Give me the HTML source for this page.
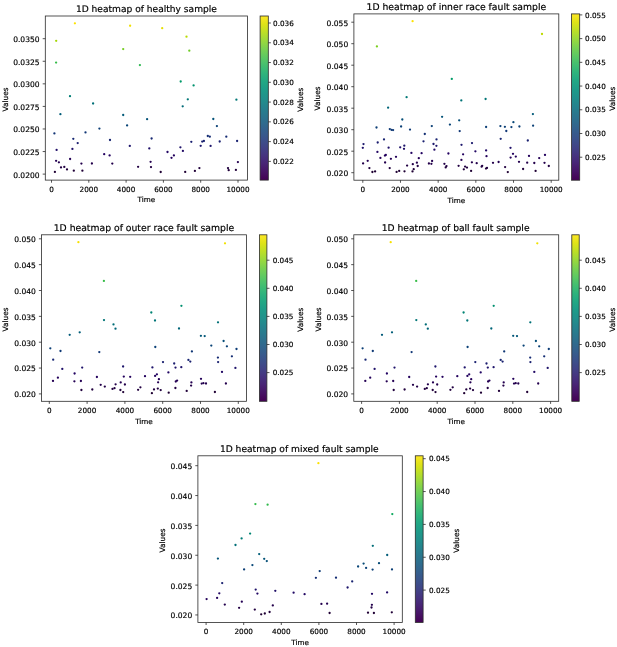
<!DOCTYPE html><html><head><meta charset="utf-8"><title>1D heatmaps</title>
<style>html,body{margin:0;padding:0;background:#fff}svg{display:block}text{font-family:"DejaVu Sans","Liberation Sans",sans-serif;fill:#000;text-rendering:geometricPrecision;stroke:#000;stroke-width:0.18}</style></head><body>
<svg width="617" height="647" viewBox="0 0 617 647">
<rect width="617" height="647" fill="#fff"/>
<defs><linearGradient id="vir" x1="0" y1="1" x2="0" y2="0">
<stop offset="0" stop-color="#440154"/>
<stop offset="0.05" stop-color="#471365"/>
<stop offset="0.1" stop-color="#482475"/>
<stop offset="0.15" stop-color="#463480"/>
<stop offset="0.2" stop-color="#414487"/>
<stop offset="0.25" stop-color="#3b528b"/>
<stop offset="0.3" stop-color="#355f8d"/>
<stop offset="0.35" stop-color="#2f6c8e"/>
<stop offset="0.4" stop-color="#2a788e"/>
<stop offset="0.45" stop-color="#25848e"/>
<stop offset="0.5" stop-color="#21918c"/>
<stop offset="0.55" stop-color="#1e9c89"/>
<stop offset="0.6" stop-color="#22a884"/>
<stop offset="0.65" stop-color="#2fb47c"/>
<stop offset="0.7" stop-color="#44bf70"/>
<stop offset="0.75" stop-color="#5ec962"/>
<stop offset="0.8" stop-color="#7ad151"/>
<stop offset="0.85" stop-color="#9bd93c"/>
<stop offset="0.9" stop-color="#bddf26"/>
<stop offset="0.95" stop-color="#dfe318"/>
<stop offset="1" stop-color="#fde725"/>
</linearGradient></defs>
<g>
<text x="146.4" y="11.7" font-size="9.1" text-anchor="middle">1D heatmap of healthy sample</text>
<circle cx="74.9" cy="23.3" r="1.15" fill="#fde200"/>
<circle cx="130.1" cy="25.75" r="1.15" fill="#f1e100"/>
<circle cx="56.2" cy="40.8" r="1.15" fill="#a3d603"/>
<circle cx="123.2" cy="49.1" r="1.15" fill="#74cd21"/>
<circle cx="56.1" cy="62.6" r="1.15" fill="#34bb48"/>
<circle cx="139.9" cy="65.1" r="1.15" fill="#2ab74e"/>
<circle cx="70" cy="96.2" r="1.15" fill="#007e75"/>
<circle cx="162.2" cy="28.2" r="1.15" fill="#e5df00"/>
<circle cx="186.5" cy="36.7" r="1.15" fill="#b9da00"/>
<circle cx="189.3" cy="50.7" r="1.15" fill="#6ecc25"/>
<circle cx="180.7" cy="81.5" r="1.15" fill="#009a69"/>
<circle cx="193.6" cy="85.4" r="1.15" fill="#00926e"/>
<circle cx="93.1" cy="103.5" r="1.15" fill="#006f77"/>
<circle cx="60.4" cy="114.2" r="1.15" fill="#005b78"/>
<circle cx="123.2" cy="115" r="1.15" fill="#015978"/>
<circle cx="147.1" cy="119.2" r="1.15" fill="#045178"/>
<circle cx="127.1" cy="125.4" r="1.15" fill="#094577"/>
<circle cx="99.4" cy="128.6" r="1.15" fill="#0d3e76"/>
<circle cx="85.5" cy="132.4" r="1.15" fill="#103675"/>
<circle cx="54.4" cy="133.4" r="1.15" fill="#123475"/>
<circle cx="73.3" cy="138.8" r="1.15" fill="#172872"/>
<circle cx="110" cy="140" r="1.15" fill="#182571"/>
<circle cx="77.7" cy="143.1" r="1.15" fill="#1b1d6f"/>
<circle cx="129.8" cy="145.9" r="1.15" fill="#1e166c"/>
<circle cx="72.4" cy="148.9" r="1.15" fill="#200f68"/>
<circle cx="56.6" cy="149.9" r="1.15" fill="#200d67"/>
<circle cx="104.2" cy="154.2" r="1.15" fill="#230160"/>
<circle cx="109.6" cy="155.4" r="1.15" fill="#23005e"/>
<circle cx="70.1" cy="159" r="1.15" fill="#240056"/>
<circle cx="56.1" cy="160.8" r="1.15" fill="#240052"/>
<circle cx="58.9" cy="162.3" r="1.15" fill="#23004e"/>
<circle cx="81.4" cy="163.6" r="1.15" fill="#23004b"/>
<circle cx="91.9" cy="163.5" r="1.15" fill="#23004b"/>
<circle cx="112.3" cy="163.6" r="1.15" fill="#23004b"/>
<circle cx="61" cy="167.4" r="1.15" fill="#220042"/>
<circle cx="64.3" cy="166.9" r="1.15" fill="#220042"/>
<circle cx="67" cy="169.4" r="1.15" fill="#21003b"/>
<circle cx="138.1" cy="166.8" r="1.15" fill="#220043"/>
<circle cx="73.8" cy="170.7" r="1.15" fill="#200037"/>
<circle cx="82.4" cy="170.7" r="1.15" fill="#200037"/>
<circle cx="54.9" cy="171.9" r="1.15" fill="#1f0034"/>
<circle cx="187.8" cy="99.3" r="1.15" fill="#007776"/>
<circle cx="236.4" cy="99.7" r="1.15" fill="#007776"/>
<circle cx="182.7" cy="106.3" r="1.15" fill="#006a77"/>
<circle cx="213.3" cy="119" r="1.15" fill="#045278"/>
<circle cx="216.9" cy="126.1" r="1.15" fill="#0b4277"/>
<circle cx="151.6" cy="138.5" r="1.15" fill="#172872"/>
<circle cx="207.8" cy="136" r="1.15" fill="#142d73"/>
<circle cx="209.8" cy="136.7" r="1.15" fill="#152c73"/>
<circle cx="226.3" cy="136.7" r="1.15" fill="#152c73"/>
<circle cx="191.3" cy="141.8" r="1.15" fill="#1a2070"/>
<circle cx="202.2" cy="141.6" r="1.15" fill="#1a2170"/>
<circle cx="203.9" cy="141" r="1.15" fill="#192271"/>
<circle cx="219.7" cy="141.5" r="1.15" fill="#1a2170"/>
<circle cx="237.1" cy="141" r="1.15" fill="#192271"/>
<circle cx="200.7" cy="145.8" r="1.15" fill="#1d176c"/>
<circle cx="210.6" cy="145.9" r="1.15" fill="#1e166c"/>
<circle cx="149.3" cy="148.4" r="1.15" fill="#1f1069"/>
<circle cx="180.4" cy="147.3" r="1.15" fill="#1f136a"/>
<circle cx="182.9" cy="150.9" r="1.15" fill="#210a66"/>
<circle cx="167.5" cy="152" r="1.15" fill="#220764"/>
<circle cx="173.9" cy="155.4" r="1.15" fill="#23005e"/>
<circle cx="171.5" cy="157.8" r="1.15" fill="#230059"/>
<circle cx="150.6" cy="161.8" r="1.15" fill="#240050"/>
<circle cx="237.9" cy="162.1" r="1.15" fill="#240050"/>
<circle cx="151" cy="167.1" r="1.15" fill="#220042"/>
<circle cx="199.4" cy="168.1" r="1.15" fill="#21003e"/>
<circle cx="228" cy="168.1" r="1.15" fill="#21003e"/>
<circle cx="228.7" cy="170.2" r="1.15" fill="#200039"/>
<circle cx="235.9" cy="169.9" r="1.15" fill="#200039"/>
<circle cx="194.9" cy="170.9" r="1.15" fill="#200037"/>
<circle cx="185.2" cy="171.9" r="1.15" fill="#1f0034"/>
<circle cx="160.7" cy="172" r="1.15" fill="#1f0034"/>
<rect x="45.3" y="16" width="202.2" height="164.1" fill="none" stroke="#2a2a2a" stroke-width="0.8"/>
<line x1="51.5" y1="180.1" x2="51.5" y2="182.7" stroke="#2a2a2a" stroke-width="0.8"/>
<text x="51.5" y="191.7" font-size="7.25" text-anchor="middle">0</text>
<line x1="88.8" y1="180.1" x2="88.8" y2="182.7" stroke="#2a2a2a" stroke-width="0.8"/>
<text x="88.8" y="191.7" font-size="7.25" text-anchor="middle">2000</text>
<line x1="126.1" y1="180.1" x2="126.1" y2="182.7" stroke="#2a2a2a" stroke-width="0.8"/>
<text x="126.1" y="191.7" font-size="7.25" text-anchor="middle">4000</text>
<line x1="163.4" y1="180.1" x2="163.4" y2="182.7" stroke="#2a2a2a" stroke-width="0.8"/>
<text x="163.4" y="191.7" font-size="7.25" text-anchor="middle">6000</text>
<line x1="200.7" y1="180.1" x2="200.7" y2="182.7" stroke="#2a2a2a" stroke-width="0.8"/>
<text x="200.7" y="191.7" font-size="7.25" text-anchor="middle">8000</text>
<line x1="238" y1="180.1" x2="238" y2="182.7" stroke="#2a2a2a" stroke-width="0.8"/>
<text x="238" y="191.7" font-size="7.25" text-anchor="middle">10000</text>
<line x1="42.7" y1="38.7" x2="45.3" y2="38.7" stroke="#2a2a2a" stroke-width="0.8"/>
<text x="39.6" y="42.1" font-size="7.55" text-anchor="end">0.0350</text>
<line x1="42.7" y1="61.27" x2="45.3" y2="61.27" stroke="#2a2a2a" stroke-width="0.8"/>
<text x="39.6" y="64.67" font-size="7.55" text-anchor="end">0.0325</text>
<line x1="42.7" y1="83.84" x2="45.3" y2="83.84" stroke="#2a2a2a" stroke-width="0.8"/>
<text x="39.6" y="87.24" font-size="7.55" text-anchor="end">0.0300</text>
<line x1="42.7" y1="106.41" x2="45.3" y2="106.41" stroke="#2a2a2a" stroke-width="0.8"/>
<text x="39.6" y="109.81" font-size="7.55" text-anchor="end">0.0275</text>
<line x1="42.7" y1="128.98" x2="45.3" y2="128.98" stroke="#2a2a2a" stroke-width="0.8"/>
<text x="39.6" y="132.38" font-size="7.55" text-anchor="end">0.0250</text>
<line x1="42.7" y1="151.55" x2="45.3" y2="151.55" stroke="#2a2a2a" stroke-width="0.8"/>
<text x="39.6" y="154.95" font-size="7.55" text-anchor="end">0.0225</text>
<line x1="42.7" y1="174.12" x2="45.3" y2="174.12" stroke="#2a2a2a" stroke-width="0.8"/>
<text x="39.6" y="177.52" font-size="7.55" text-anchor="end">0.0200</text>
<text x="146.4" y="202.4" font-size="7.2" text-anchor="middle">Time</text>
<text transform="translate(8.4,99.45) rotate(-90)" font-size="7.4" text-anchor="middle">Values</text>
<rect x="260.1" y="16" width="8.2" height="164.1" fill="url(#vir)" stroke="#2a2a2a" stroke-width="0.8"/>
<line x1="268.3" y1="23" x2="270.9" y2="23" stroke="#2a2a2a" stroke-width="0.8"/>
<text x="273.1" y="25.6" font-size="7.25">0.036</text>
<line x1="268.3" y1="42.77" x2="270.9" y2="42.77" stroke="#2a2a2a" stroke-width="0.8"/>
<text x="273.1" y="45.37" font-size="7.25">0.034</text>
<line x1="268.3" y1="62.54" x2="270.9" y2="62.54" stroke="#2a2a2a" stroke-width="0.8"/>
<text x="273.1" y="65.14" font-size="7.25">0.032</text>
<line x1="268.3" y1="82.31" x2="270.9" y2="82.31" stroke="#2a2a2a" stroke-width="0.8"/>
<text x="273.1" y="84.91" font-size="7.25">0.030</text>
<line x1="268.3" y1="102.08" x2="270.9" y2="102.08" stroke="#2a2a2a" stroke-width="0.8"/>
<text x="273.1" y="104.68" font-size="7.25">0.028</text>
<line x1="268.3" y1="121.85" x2="270.9" y2="121.85" stroke="#2a2a2a" stroke-width="0.8"/>
<text x="273.1" y="124.45" font-size="7.25">0.026</text>
<line x1="268.3" y1="141.62" x2="270.9" y2="141.62" stroke="#2a2a2a" stroke-width="0.8"/>
<text x="273.1" y="144.22" font-size="7.25">0.024</text>
<line x1="268.3" y1="161.39" x2="270.9" y2="161.39" stroke="#2a2a2a" stroke-width="0.8"/>
<text x="273.1" y="163.99" font-size="7.25">0.022</text>
<text transform="translate(302.7,99.65) rotate(-90)" font-size="7.4" text-anchor="middle">Values</text>
</g>
<g>
<text x="456.35" y="9.9" font-size="9.25" text-anchor="middle">1D heatmap of inner race fault sample</text>
<circle cx="412.6" cy="21.2" r="1.15" fill="#fde200"/>
<circle cx="376.9" cy="46.4" r="1.15" fill="#7acf1d"/>
<circle cx="451.8" cy="78.9" r="1.15" fill="#009c68"/>
<circle cx="542" cy="34" r="1.15" fill="#bdda00"/>
<circle cx="406.6" cy="97.2" r="1.15" fill="#007976"/>
<circle cx="388.1" cy="107.7" r="1.15" fill="#006578"/>
<circle cx="402.3" cy="119.5" r="1.15" fill="#054e77"/>
<circle cx="401.1" cy="126.5" r="1.15" fill="#0c4076"/>
<circle cx="376.5" cy="127.5" r="1.15" fill="#0d3e76"/>
<circle cx="389.8" cy="129.1" r="1.15" fill="#0f3a76"/>
<circle cx="391.6" cy="129.9" r="1.15" fill="#0f3975"/>
<circle cx="393.1" cy="130.1" r="1.15" fill="#0f3975"/>
<circle cx="410" cy="129.6" r="1.15" fill="#0f3a76"/>
<circle cx="461.3" cy="100.4" r="1.15" fill="#007377"/>
<circle cx="485.6" cy="99" r="1.15" fill="#007576"/>
<circle cx="442.1" cy="116.8" r="1.15" fill="#035378"/>
<circle cx="459.2" cy="120.3" r="1.15" fill="#064c77"/>
<circle cx="449.9" cy="124.6" r="1.15" fill="#0a4477"/>
<circle cx="431.8" cy="126.1" r="1.15" fill="#0c4076"/>
<circle cx="486.1" cy="127" r="1.15" fill="#0c3f76"/>
<circle cx="459.7" cy="131.1" r="1.15" fill="#103675"/>
<circle cx="424.8" cy="134" r="1.15" fill="#133074"/>
<circle cx="532.9" cy="114.1" r="1.15" fill="#015978"/>
<circle cx="513.4" cy="122.2" r="1.15" fill="#084877"/>
<circle cx="500.4" cy="126.1" r="1.15" fill="#0c4076"/>
<circle cx="504.9" cy="126.8" r="1.15" fill="#0c3f76"/>
<circle cx="511.4" cy="127.1" r="1.15" fill="#0c3f76"/>
<circle cx="519.4" cy="126.5" r="1.15" fill="#0c4076"/>
<circle cx="533.1" cy="125.7" r="1.15" fill="#0b4177"/>
<circle cx="506.3" cy="131" r="1.15" fill="#103675"/>
<circle cx="384" cy="139.4" r="1.15" fill="#192471"/>
<circle cx="363.5" cy="144.1" r="1.15" fill="#1d196d"/>
<circle cx="377.7" cy="142.5" r="1.15" fill="#1b1d6f"/>
<circle cx="362.8" cy="147.8" r="1.15" fill="#1f1069"/>
<circle cx="388.6" cy="147.7" r="1.15" fill="#1f1069"/>
<circle cx="400.2" cy="147.3" r="1.15" fill="#1f116a"/>
<circle cx="404.3" cy="145.7" r="1.15" fill="#1e146b"/>
<circle cx="404" cy="148.8" r="1.15" fill="#200d67"/>
<circle cx="377.4" cy="151.9" r="1.15" fill="#220663"/>
<circle cx="411.4" cy="152.9" r="1.15" fill="#220361"/>
<circle cx="421.6" cy="153.2" r="1.15" fill="#220361"/>
<circle cx="384.9" cy="155.6" r="1.15" fill="#23005b"/>
<circle cx="385.8" cy="155" r="1.15" fill="#23005d"/>
<circle cx="396" cy="156.8" r="1.15" fill="#230059"/>
<circle cx="380.4" cy="157.9" r="1.15" fill="#240058"/>
<circle cx="390.9" cy="158.8" r="1.15" fill="#240055"/>
<circle cx="418.8" cy="158.2" r="1.15" fill="#240056"/>
<circle cx="367.7" cy="160.8" r="1.15" fill="#240051"/>
<circle cx="385.1" cy="162.5" r="1.15" fill="#23004d"/>
<circle cx="363.1" cy="163.4" r="1.15" fill="#23004a"/>
<circle cx="416.9" cy="162.7" r="1.15" fill="#23004b"/>
<circle cx="412.8" cy="164.2" r="1.15" fill="#230048"/>
<circle cx="407.1" cy="165.6" r="1.15" fill="#220043"/>
<circle cx="417.7" cy="166" r="1.15" fill="#220043"/>
<circle cx="369.4" cy="168.1" r="1.15" fill="#21003d"/>
<circle cx="389.7" cy="168.1" r="1.15" fill="#21003d"/>
<circle cx="413.7" cy="169.2" r="1.15" fill="#200039"/>
<circle cx="372.4" cy="172" r="1.15" fill="#1f0032"/>
<circle cx="375.1" cy="171.4" r="1.15" fill="#1f0034"/>
<circle cx="396.6" cy="171.9" r="1.15" fill="#1f0032"/>
<circle cx="399.2" cy="170.9" r="1.15" fill="#1f0034"/>
<circle cx="404.5" cy="171.3" r="1.15" fill="#1f0034"/>
<circle cx="412.5" cy="171.4" r="1.15" fill="#1f0034"/>
<circle cx="436.5" cy="139.4" r="1.15" fill="#192471"/>
<circle cx="423.5" cy="141.3" r="1.15" fill="#1a2070"/>
<circle cx="433.5" cy="144" r="1.15" fill="#1d196d"/>
<circle cx="436.4" cy="145.8" r="1.15" fill="#1e146b"/>
<circle cx="461.5" cy="144.8" r="1.15" fill="#1d176c"/>
<circle cx="472" cy="143.1" r="1.15" fill="#1c1b6e"/>
<circle cx="434.4" cy="149.7" r="1.15" fill="#210a66"/>
<circle cx="475.4" cy="151.3" r="1.15" fill="#220764"/>
<circle cx="486.1" cy="150.4" r="1.15" fill="#210965"/>
<circle cx="448.4" cy="153.5" r="1.15" fill="#230160"/>
<circle cx="463.1" cy="154.3" r="1.15" fill="#23005f"/>
<circle cx="486.5" cy="156.2" r="1.15" fill="#23005a"/>
<circle cx="461.4" cy="159.9" r="1.15" fill="#240052"/>
<circle cx="432.1" cy="161" r="1.15" fill="#240050"/>
<circle cx="471.9" cy="162.3" r="1.15" fill="#23004d"/>
<circle cx="476.7" cy="163.2" r="1.15" fill="#23004b"/>
<circle cx="428.9" cy="163.5" r="1.15" fill="#23004a"/>
<circle cx="431.4" cy="163.8" r="1.15" fill="#23004a"/>
<circle cx="444.4" cy="163.8" r="1.15" fill="#23004a"/>
<circle cx="458.6" cy="165.8" r="1.15" fill="#220043"/>
<circle cx="446.5" cy="166.1" r="1.15" fill="#220043"/>
<circle cx="445.7" cy="167.4" r="1.15" fill="#21003e"/>
<circle cx="465.1" cy="166.6" r="1.15" fill="#220042"/>
<circle cx="467" cy="167.6" r="1.15" fill="#21003e"/>
<circle cx="482.2" cy="165.8" r="1.15" fill="#220043"/>
<circle cx="481.6" cy="166.7" r="1.15" fill="#220042"/>
<circle cx="487" cy="167.9" r="1.15" fill="#21003e"/>
<circle cx="486" cy="168.6" r="1.15" fill="#21003b"/>
<circle cx="463.8" cy="169.3" r="1.15" fill="#200039"/>
<circle cx="471.1" cy="170.9" r="1.15" fill="#1f0034"/>
<circle cx="500.7" cy="138.8" r="1.15" fill="#182571"/>
<circle cx="527.8" cy="140.5" r="1.15" fill="#1a2170"/>
<circle cx="510.5" cy="147.8" r="1.15" fill="#1f1069"/>
<circle cx="513" cy="153.8" r="1.15" fill="#23005f"/>
<circle cx="515.8" cy="156.6" r="1.15" fill="#23005a"/>
<circle cx="510.6" cy="157.6" r="1.15" fill="#240058"/>
<circle cx="529" cy="155.9" r="1.15" fill="#23005b"/>
<circle cx="545" cy="154.9" r="1.15" fill="#23005e"/>
<circle cx="539.2" cy="158.1" r="1.15" fill="#240056"/>
<circle cx="493" cy="162.8" r="1.15" fill="#23004b"/>
<circle cx="498.6" cy="162" r="1.15" fill="#23004e"/>
<circle cx="519" cy="161.8" r="1.15" fill="#23004e"/>
<circle cx="527.2" cy="162.7" r="1.15" fill="#23004b"/>
<circle cx="534.3" cy="163" r="1.15" fill="#23004b"/>
<circle cx="544.5" cy="162.8" r="1.15" fill="#23004b"/>
<circle cx="548.8" cy="166" r="1.15" fill="#220043"/>
<circle cx="505.1" cy="167.1" r="1.15" fill="#220040"/>
<circle cx="523.1" cy="169" r="1.15" fill="#21003b"/>
<circle cx="535.6" cy="170.9" r="1.15" fill="#1f0034"/>
<circle cx="507.8" cy="172.1" r="1.15" fill="#1f0032"/>
<rect x="353.9" y="13.9" width="204.9" height="166.3" fill="none" stroke="#2a2a2a" stroke-width="0.8"/>
<line x1="362.8" y1="180.2" x2="362.8" y2="182.8" stroke="#2a2a2a" stroke-width="0.8"/>
<text x="362.8" y="191.8" font-size="7.25" text-anchor="middle">0</text>
<line x1="400.48" y1="180.2" x2="400.48" y2="182.8" stroke="#2a2a2a" stroke-width="0.8"/>
<text x="400.48" y="191.8" font-size="7.25" text-anchor="middle">2000</text>
<line x1="438.16" y1="180.2" x2="438.16" y2="182.8" stroke="#2a2a2a" stroke-width="0.8"/>
<text x="438.16" y="191.8" font-size="7.25" text-anchor="middle">4000</text>
<line x1="475.84" y1="180.2" x2="475.84" y2="182.8" stroke="#2a2a2a" stroke-width="0.8"/>
<text x="475.84" y="191.8" font-size="7.25" text-anchor="middle">6000</text>
<line x1="513.52" y1="180.2" x2="513.52" y2="182.8" stroke="#2a2a2a" stroke-width="0.8"/>
<text x="513.52" y="191.8" font-size="7.25" text-anchor="middle">8000</text>
<line x1="551.2" y1="180.2" x2="551.2" y2="182.8" stroke="#2a2a2a" stroke-width="0.8"/>
<text x="551.2" y="191.8" font-size="7.25" text-anchor="middle">10000</text>
<line x1="351.3" y1="22.2" x2="353.9" y2="22.2" stroke="#2a2a2a" stroke-width="0.8"/>
<text x="348.2" y="25.6" font-size="7.55" text-anchor="end">0.055</text>
<line x1="351.3" y1="43.7" x2="353.9" y2="43.7" stroke="#2a2a2a" stroke-width="0.8"/>
<text x="348.2" y="47.1" font-size="7.55" text-anchor="end">0.050</text>
<line x1="351.3" y1="65.2" x2="353.9" y2="65.2" stroke="#2a2a2a" stroke-width="0.8"/>
<text x="348.2" y="68.6" font-size="7.55" text-anchor="end">0.045</text>
<line x1="351.3" y1="86.7" x2="353.9" y2="86.7" stroke="#2a2a2a" stroke-width="0.8"/>
<text x="348.2" y="90.1" font-size="7.55" text-anchor="end">0.040</text>
<line x1="351.3" y1="108.2" x2="353.9" y2="108.2" stroke="#2a2a2a" stroke-width="0.8"/>
<text x="348.2" y="111.6" font-size="7.55" text-anchor="end">0.035</text>
<line x1="351.3" y1="129.7" x2="353.9" y2="129.7" stroke="#2a2a2a" stroke-width="0.8"/>
<text x="348.2" y="133.1" font-size="7.55" text-anchor="end">0.030</text>
<line x1="351.3" y1="151.2" x2="353.9" y2="151.2" stroke="#2a2a2a" stroke-width="0.8"/>
<text x="348.2" y="154.6" font-size="7.55" text-anchor="end">0.025</text>
<line x1="351.3" y1="172.7" x2="353.9" y2="172.7" stroke="#2a2a2a" stroke-width="0.8"/>
<text x="348.2" y="176.1" font-size="7.55" text-anchor="end">0.020</text>
<text x="456.35" y="202.5" font-size="7.2" text-anchor="middle">Time</text>
<text transform="translate(320.4,98.45) rotate(-90)" font-size="7.4" text-anchor="middle">Values</text>
<rect x="571.6" y="13.9" width="8.1" height="166.3" fill="url(#vir)" stroke="#2a2a2a" stroke-width="0.8"/>
<line x1="579.7" y1="14.9" x2="582.3" y2="14.9" stroke="#2a2a2a" stroke-width="0.8"/>
<text x="585.1" y="17.5" font-size="7.25">0.055</text>
<line x1="579.7" y1="38.62" x2="582.3" y2="38.62" stroke="#2a2a2a" stroke-width="0.8"/>
<text x="585.1" y="41.22" font-size="7.25">0.050</text>
<line x1="579.7" y1="62.34" x2="582.3" y2="62.34" stroke="#2a2a2a" stroke-width="0.8"/>
<text x="585.1" y="64.94" font-size="7.25">0.045</text>
<line x1="579.7" y1="86.06" x2="582.3" y2="86.06" stroke="#2a2a2a" stroke-width="0.8"/>
<text x="585.1" y="88.66" font-size="7.25">0.040</text>
<line x1="579.7" y1="109.78" x2="582.3" y2="109.78" stroke="#2a2a2a" stroke-width="0.8"/>
<text x="585.1" y="112.38" font-size="7.25">0.035</text>
<line x1="579.7" y1="133.5" x2="582.3" y2="133.5" stroke="#2a2a2a" stroke-width="0.8"/>
<text x="585.1" y="136.1" font-size="7.25">0.030</text>
<line x1="579.7" y1="157.22" x2="582.3" y2="157.22" stroke="#2a2a2a" stroke-width="0.8"/>
<text x="585.1" y="159.82" font-size="7.25">0.025</text>
<text transform="translate(614.5,98.65) rotate(-90)" font-size="7.4" text-anchor="middle">Values</text>
</g>
<g>
<text x="143.95" y="230.5" font-size="9.25" text-anchor="middle">1D heatmap of outer race fault sample</text>
<circle cx="78.4" cy="242.2" r="1.15" fill="#f7e100"/>
<circle cx="103.9" cy="280.9" r="1.15" fill="#36bc47"/>
<circle cx="225" cy="243.3" r="1.15" fill="#f1e100"/>
<circle cx="181.4" cy="305.8" r="1.15" fill="#00906f"/>
<circle cx="151.3" cy="312.5" r="1.15" fill="#008473"/>
<circle cx="104" cy="320.1" r="1.15" fill="#007576"/>
<circle cx="79.7" cy="332.3" r="1.15" fill="#005d78"/>
<circle cx="69.7" cy="334.8" r="1.15" fill="#015978"/>
<circle cx="50.3" cy="348.3" r="1.15" fill="#0c3f76"/>
<circle cx="60.5" cy="351" r="1.15" fill="#0f3975"/>
<circle cx="99.3" cy="352.1" r="1.15" fill="#103675"/>
<circle cx="113.5" cy="324.4" r="1.15" fill="#006d77"/>
<circle cx="115.5" cy="328.7" r="1.15" fill="#006478"/>
<circle cx="155" cy="320.5" r="1.15" fill="#007477"/>
<circle cx="179" cy="328.5" r="1.15" fill="#006578"/>
<circle cx="155.3" cy="347" r="1.15" fill="#0b4177"/>
<circle cx="218" cy="322.3" r="1.15" fill="#007077"/>
<circle cx="200.9" cy="335.8" r="1.15" fill="#015778"/>
<circle cx="204.7" cy="336.1" r="1.15" fill="#025678"/>
<circle cx="223.6" cy="341" r="1.15" fill="#064d77"/>
<circle cx="211.3" cy="345.6" r="1.15" fill="#0a4477"/>
<circle cx="226.9" cy="346.3" r="1.15" fill="#0b4277"/>
<circle cx="236.5" cy="349" r="1.15" fill="#0d3c76"/>
<circle cx="191.9" cy="351.4" r="1.15" fill="#103775"/>
<circle cx="231.9" cy="356.3" r="1.15" fill="#142d73"/>
<circle cx="217.9" cy="357.6" r="1.15" fill="#162a73"/>
<circle cx="53.2" cy="359.7" r="1.15" fill="#172672"/>
<circle cx="82.2" cy="367.6" r="1.15" fill="#1f136a"/>
<circle cx="62.3" cy="368.9" r="1.15" fill="#1f1069"/>
<circle cx="74.6" cy="373.5" r="1.15" fill="#220462"/>
<circle cx="57.9" cy="377.7" r="1.15" fill="#23005a"/>
<circle cx="96.9" cy="377" r="1.15" fill="#23005d"/>
<circle cx="53" cy="380.9" r="1.15" fill="#240054"/>
<circle cx="74.4" cy="381.3" r="1.15" fill="#240052"/>
<circle cx="80.9" cy="381" r="1.15" fill="#240054"/>
<circle cx="100.7" cy="384.8" r="1.15" fill="#23004b"/>
<circle cx="104.8" cy="386.6" r="1.15" fill="#230047"/>
<circle cx="81.4" cy="390" r="1.15" fill="#21003d"/>
<circle cx="92.3" cy="389.5" r="1.15" fill="#21003e"/>
<circle cx="163" cy="362.1" r="1.15" fill="#1a2170"/>
<circle cx="174.2" cy="363.5" r="1.15" fill="#1b1d6f"/>
<circle cx="123.1" cy="366.5" r="1.15" fill="#1e166c"/>
<circle cx="152.4" cy="367.4" r="1.15" fill="#1e146b"/>
<circle cx="175.5" cy="367.6" r="1.15" fill="#1f136a"/>
<circle cx="168.4" cy="372.4" r="1.15" fill="#220764"/>
<circle cx="156.9" cy="374.3" r="1.15" fill="#220361"/>
<circle cx="155.1" cy="375.9" r="1.15" fill="#23005e"/>
<circle cx="123.8" cy="376.6" r="1.15" fill="#23005d"/>
<circle cx="130.2" cy="376.8" r="1.15" fill="#23005d"/>
<circle cx="145" cy="376.2" r="1.15" fill="#23005e"/>
<circle cx="158.9" cy="379.2" r="1.15" fill="#240058"/>
<circle cx="177.1" cy="380.6" r="1.15" fill="#240055"/>
<circle cx="175.8" cy="381.5" r="1.15" fill="#240052"/>
<circle cx="158.1" cy="382.3" r="1.15" fill="#240051"/>
<circle cx="120.7" cy="382.4" r="1.15" fill="#240051"/>
<circle cx="115.6" cy="384.3" r="1.15" fill="#23004b"/>
<circle cx="124.9" cy="384.5" r="1.15" fill="#23004b"/>
<circle cx="140.4" cy="387.3" r="1.15" fill="#220043"/>
<circle cx="175.4" cy="388" r="1.15" fill="#220042"/>
<circle cx="114.5" cy="388.2" r="1.15" fill="#220042"/>
<circle cx="112.5" cy="388.9" r="1.15" fill="#220040"/>
<circle cx="157.8" cy="388.6" r="1.15" fill="#220040"/>
<circle cx="154" cy="389.4" r="1.15" fill="#21003e"/>
<circle cx="138.1" cy="389.8" r="1.15" fill="#21003d"/>
<circle cx="120.4" cy="390" r="1.15" fill="#21003d"/>
<circle cx="160.7" cy="390.1" r="1.15" fill="#21003d"/>
<circle cx="123.2" cy="392.1" r="1.15" fill="#200035"/>
<circle cx="168.7" cy="392.7" r="1.15" fill="#1f0034"/>
<circle cx="151.9" cy="393.2" r="1.15" fill="#1f0032"/>
<circle cx="188.4" cy="359.9" r="1.15" fill="#182571"/>
<circle cx="190.3" cy="361.6" r="1.15" fill="#1a2170"/>
<circle cx="218.1" cy="362.1" r="1.15" fill="#1a2170"/>
<circle cx="181.3" cy="367.2" r="1.15" fill="#1e146b"/>
<circle cx="235.4" cy="367.9" r="1.15" fill="#1f136a"/>
<circle cx="222" cy="371.9" r="1.15" fill="#210965"/>
<circle cx="201" cy="378.8" r="1.15" fill="#230059"/>
<circle cx="191.4" cy="382.4" r="1.15" fill="#240051"/>
<circle cx="201.7" cy="383.6" r="1.15" fill="#23004e"/>
<circle cx="203.4" cy="383.2" r="1.15" fill="#23004e"/>
<circle cx="206" cy="383.5" r="1.15" fill="#23004e"/>
<circle cx="225.9" cy="383.5" r="1.15" fill="#23004e"/>
<circle cx="191.1" cy="385.6" r="1.15" fill="#230048"/>
<circle cx="186.7" cy="390.9" r="1.15" fill="#200039"/>
<circle cx="214.9" cy="392" r="1.15" fill="#200035"/>
<rect x="41.5" y="234.8" width="204.9" height="166.5" fill="none" stroke="#2a2a2a" stroke-width="0.8"/>
<line x1="49.3" y1="401.3" x2="49.3" y2="403.9" stroke="#2a2a2a" stroke-width="0.8"/>
<text x="49.3" y="412.9" font-size="7.25" text-anchor="middle">0</text>
<line x1="87.1" y1="401.3" x2="87.1" y2="403.9" stroke="#2a2a2a" stroke-width="0.8"/>
<text x="87.1" y="412.9" font-size="7.25" text-anchor="middle">2000</text>
<line x1="124.9" y1="401.3" x2="124.9" y2="403.9" stroke="#2a2a2a" stroke-width="0.8"/>
<text x="124.9" y="412.9" font-size="7.25" text-anchor="middle">4000</text>
<line x1="162.7" y1="401.3" x2="162.7" y2="403.9" stroke="#2a2a2a" stroke-width="0.8"/>
<text x="162.7" y="412.9" font-size="7.25" text-anchor="middle">6000</text>
<line x1="200.5" y1="401.3" x2="200.5" y2="403.9" stroke="#2a2a2a" stroke-width="0.8"/>
<text x="200.5" y="412.9" font-size="7.25" text-anchor="middle">8000</text>
<line x1="238.3" y1="401.3" x2="238.3" y2="403.9" stroke="#2a2a2a" stroke-width="0.8"/>
<text x="238.3" y="412.9" font-size="7.25" text-anchor="middle">10000</text>
<line x1="38.9" y1="238.8" x2="41.5" y2="238.8" stroke="#2a2a2a" stroke-width="0.8"/>
<text x="35.8" y="242.2" font-size="7.55" text-anchor="end">0.050</text>
<line x1="38.9" y1="264.65" x2="41.5" y2="264.65" stroke="#2a2a2a" stroke-width="0.8"/>
<text x="35.8" y="268.05" font-size="7.55" text-anchor="end">0.045</text>
<line x1="38.9" y1="290.5" x2="41.5" y2="290.5" stroke="#2a2a2a" stroke-width="0.8"/>
<text x="35.8" y="293.9" font-size="7.55" text-anchor="end">0.040</text>
<line x1="38.9" y1="316.35" x2="41.5" y2="316.35" stroke="#2a2a2a" stroke-width="0.8"/>
<text x="35.8" y="319.75" font-size="7.55" text-anchor="end">0.035</text>
<line x1="38.9" y1="342.2" x2="41.5" y2="342.2" stroke="#2a2a2a" stroke-width="0.8"/>
<text x="35.8" y="345.6" font-size="7.55" text-anchor="end">0.030</text>
<line x1="38.9" y1="368.05" x2="41.5" y2="368.05" stroke="#2a2a2a" stroke-width="0.8"/>
<text x="35.8" y="371.45" font-size="7.55" text-anchor="end">0.025</text>
<line x1="38.9" y1="393.9" x2="41.5" y2="393.9" stroke="#2a2a2a" stroke-width="0.8"/>
<text x="35.8" y="397.3" font-size="7.55" text-anchor="end">0.020</text>
<text x="143.95" y="423.6" font-size="7.2" text-anchor="middle">Time</text>
<text transform="translate(8.4,319.45) rotate(-90)" font-size="7.4" text-anchor="middle">Values</text>
<rect x="259.5" y="234.8" width="7.4" height="166.5" fill="url(#vir)" stroke="#2a2a2a" stroke-width="0.8"/>
<line x1="266.9" y1="260.2" x2="269.5" y2="260.2" stroke="#2a2a2a" stroke-width="0.8"/>
<text x="272.7" y="262.8" font-size="7.25">0.045</text>
<line x1="266.9" y1="288.3" x2="269.5" y2="288.3" stroke="#2a2a2a" stroke-width="0.8"/>
<text x="272.7" y="290.9" font-size="7.25">0.040</text>
<line x1="266.9" y1="316.4" x2="269.5" y2="316.4" stroke="#2a2a2a" stroke-width="0.8"/>
<text x="272.7" y="319" font-size="7.25">0.035</text>
<line x1="266.9" y1="344.5" x2="269.5" y2="344.5" stroke="#2a2a2a" stroke-width="0.8"/>
<text x="272.7" y="347.1" font-size="7.25">0.030</text>
<line x1="266.9" y1="372.6" x2="269.5" y2="372.6" stroke="#2a2a2a" stroke-width="0.8"/>
<text x="272.7" y="375.2" font-size="7.25">0.025</text>
<text transform="translate(302.8,319.65) rotate(-90)" font-size="7.4" text-anchor="middle">Values</text>
</g>
<g>
<text x="455.65" y="230.5" font-size="9.17" text-anchor="middle">1D heatmap of ball fault sample</text>
<circle cx="390.7" cy="242.2" r="1.15" fill="#f7e100"/>
<circle cx="416.2" cy="280.9" r="1.15" fill="#36bc47"/>
<circle cx="537.3" cy="243.3" r="1.15" fill="#f1e100"/>
<circle cx="493.7" cy="305.8" r="1.15" fill="#00906f"/>
<circle cx="463.6" cy="312.5" r="1.15" fill="#008473"/>
<circle cx="416.3" cy="320.1" r="1.15" fill="#007576"/>
<circle cx="392" cy="332.3" r="1.15" fill="#005d78"/>
<circle cx="382" cy="334.8" r="1.15" fill="#015978"/>
<circle cx="362.6" cy="348.3" r="1.15" fill="#0c3f76"/>
<circle cx="372.8" cy="351" r="1.15" fill="#0f3975"/>
<circle cx="411.6" cy="352.1" r="1.15" fill="#103675"/>
<circle cx="425.8" cy="324.4" r="1.15" fill="#006d77"/>
<circle cx="427.8" cy="328.7" r="1.15" fill="#006478"/>
<circle cx="467.3" cy="320.5" r="1.15" fill="#007477"/>
<circle cx="491.3" cy="328.5" r="1.15" fill="#006578"/>
<circle cx="467.6" cy="347" r="1.15" fill="#0b4177"/>
<circle cx="530.3" cy="322.3" r="1.15" fill="#007077"/>
<circle cx="513.2" cy="335.8" r="1.15" fill="#015778"/>
<circle cx="517" cy="336.1" r="1.15" fill="#025678"/>
<circle cx="535.9" cy="341" r="1.15" fill="#064d77"/>
<circle cx="523.6" cy="345.6" r="1.15" fill="#0a4477"/>
<circle cx="539.2" cy="346.3" r="1.15" fill="#0b4277"/>
<circle cx="548.8" cy="349" r="1.15" fill="#0d3c76"/>
<circle cx="504.2" cy="351.4" r="1.15" fill="#103775"/>
<circle cx="544.2" cy="356.3" r="1.15" fill="#142d73"/>
<circle cx="530.2" cy="357.6" r="1.15" fill="#162a73"/>
<circle cx="365.5" cy="359.7" r="1.15" fill="#172672"/>
<circle cx="394.5" cy="367.6" r="1.15" fill="#1f136a"/>
<circle cx="374.6" cy="368.9" r="1.15" fill="#1f1069"/>
<circle cx="386.9" cy="373.5" r="1.15" fill="#220462"/>
<circle cx="370.2" cy="377.7" r="1.15" fill="#23005a"/>
<circle cx="409.2" cy="377" r="1.15" fill="#23005d"/>
<circle cx="365.3" cy="380.9" r="1.15" fill="#240054"/>
<circle cx="386.7" cy="381.3" r="1.15" fill="#240052"/>
<circle cx="393.2" cy="381" r="1.15" fill="#240054"/>
<circle cx="413" cy="384.8" r="1.15" fill="#23004b"/>
<circle cx="417.1" cy="386.6" r="1.15" fill="#230047"/>
<circle cx="393.7" cy="390" r="1.15" fill="#21003d"/>
<circle cx="404.6" cy="389.5" r="1.15" fill="#21003e"/>
<circle cx="475.3" cy="362.1" r="1.15" fill="#1a2170"/>
<circle cx="486.5" cy="363.5" r="1.15" fill="#1b1d6f"/>
<circle cx="435.4" cy="366.5" r="1.15" fill="#1e166c"/>
<circle cx="464.7" cy="367.4" r="1.15" fill="#1e146b"/>
<circle cx="487.8" cy="367.6" r="1.15" fill="#1f136a"/>
<circle cx="480.7" cy="372.4" r="1.15" fill="#220764"/>
<circle cx="469.2" cy="374.3" r="1.15" fill="#220361"/>
<circle cx="467.4" cy="375.9" r="1.15" fill="#23005e"/>
<circle cx="436.1" cy="376.6" r="1.15" fill="#23005d"/>
<circle cx="442.5" cy="376.8" r="1.15" fill="#23005d"/>
<circle cx="457.3" cy="376.2" r="1.15" fill="#23005e"/>
<circle cx="471.2" cy="379.2" r="1.15" fill="#240058"/>
<circle cx="489.4" cy="380.6" r="1.15" fill="#240055"/>
<circle cx="488.1" cy="381.5" r="1.15" fill="#240052"/>
<circle cx="470.4" cy="382.3" r="1.15" fill="#240051"/>
<circle cx="433" cy="382.4" r="1.15" fill="#240051"/>
<circle cx="427.9" cy="384.3" r="1.15" fill="#23004b"/>
<circle cx="437.2" cy="384.5" r="1.15" fill="#23004b"/>
<circle cx="452.7" cy="387.3" r="1.15" fill="#220043"/>
<circle cx="487.7" cy="388" r="1.15" fill="#220042"/>
<circle cx="426.8" cy="388.2" r="1.15" fill="#220042"/>
<circle cx="424.8" cy="388.9" r="1.15" fill="#220040"/>
<circle cx="470.1" cy="388.6" r="1.15" fill="#220040"/>
<circle cx="466.3" cy="389.4" r="1.15" fill="#21003e"/>
<circle cx="450.4" cy="389.8" r="1.15" fill="#21003d"/>
<circle cx="432.7" cy="390" r="1.15" fill="#21003d"/>
<circle cx="473" cy="390.1" r="1.15" fill="#21003d"/>
<circle cx="435.5" cy="392.1" r="1.15" fill="#200035"/>
<circle cx="481" cy="392.7" r="1.15" fill="#1f0034"/>
<circle cx="464.2" cy="393.2" r="1.15" fill="#1f0032"/>
<circle cx="500.7" cy="359.9" r="1.15" fill="#182571"/>
<circle cx="502.6" cy="361.6" r="1.15" fill="#1a2170"/>
<circle cx="530.4" cy="362.1" r="1.15" fill="#1a2170"/>
<circle cx="493.6" cy="367.2" r="1.15" fill="#1e146b"/>
<circle cx="547.7" cy="367.9" r="1.15" fill="#1f136a"/>
<circle cx="534.3" cy="371.9" r="1.15" fill="#210965"/>
<circle cx="513.3" cy="378.8" r="1.15" fill="#230059"/>
<circle cx="503.7" cy="382.4" r="1.15" fill="#240051"/>
<circle cx="514" cy="383.6" r="1.15" fill="#23004e"/>
<circle cx="515.7" cy="383.2" r="1.15" fill="#23004e"/>
<circle cx="518.3" cy="383.5" r="1.15" fill="#23004e"/>
<circle cx="538.2" cy="383.5" r="1.15" fill="#23004e"/>
<circle cx="503.4" cy="385.6" r="1.15" fill="#230048"/>
<circle cx="499" cy="390.9" r="1.15" fill="#200039"/>
<circle cx="527.2" cy="392" r="1.15" fill="#200035"/>
<rect x="353.8" y="234.8" width="204.9" height="166.5" fill="none" stroke="#2a2a2a" stroke-width="0.8"/>
<line x1="361.6" y1="401.3" x2="361.6" y2="403.9" stroke="#2a2a2a" stroke-width="0.8"/>
<text x="361.6" y="412.9" font-size="7.25" text-anchor="middle">0</text>
<line x1="399.4" y1="401.3" x2="399.4" y2="403.9" stroke="#2a2a2a" stroke-width="0.8"/>
<text x="399.4" y="412.9" font-size="7.25" text-anchor="middle">2000</text>
<line x1="437.2" y1="401.3" x2="437.2" y2="403.9" stroke="#2a2a2a" stroke-width="0.8"/>
<text x="437.2" y="412.9" font-size="7.25" text-anchor="middle">4000</text>
<line x1="475" y1="401.3" x2="475" y2="403.9" stroke="#2a2a2a" stroke-width="0.8"/>
<text x="475" y="412.9" font-size="7.25" text-anchor="middle">6000</text>
<line x1="512.8" y1="401.3" x2="512.8" y2="403.9" stroke="#2a2a2a" stroke-width="0.8"/>
<text x="512.8" y="412.9" font-size="7.25" text-anchor="middle">8000</text>
<line x1="550.6" y1="401.3" x2="550.6" y2="403.9" stroke="#2a2a2a" stroke-width="0.8"/>
<text x="550.6" y="412.9" font-size="7.25" text-anchor="middle">10000</text>
<line x1="351.2" y1="238.8" x2="353.8" y2="238.8" stroke="#2a2a2a" stroke-width="0.8"/>
<text x="348.1" y="242.2" font-size="7.55" text-anchor="end">0.050</text>
<line x1="351.2" y1="264.65" x2="353.8" y2="264.65" stroke="#2a2a2a" stroke-width="0.8"/>
<text x="348.1" y="268.05" font-size="7.55" text-anchor="end">0.045</text>
<line x1="351.2" y1="290.5" x2="353.8" y2="290.5" stroke="#2a2a2a" stroke-width="0.8"/>
<text x="348.1" y="293.9" font-size="7.55" text-anchor="end">0.040</text>
<line x1="351.2" y1="316.35" x2="353.8" y2="316.35" stroke="#2a2a2a" stroke-width="0.8"/>
<text x="348.1" y="319.75" font-size="7.55" text-anchor="end">0.035</text>
<line x1="351.2" y1="342.2" x2="353.8" y2="342.2" stroke="#2a2a2a" stroke-width="0.8"/>
<text x="348.1" y="345.6" font-size="7.55" text-anchor="end">0.030</text>
<line x1="351.2" y1="368.05" x2="353.8" y2="368.05" stroke="#2a2a2a" stroke-width="0.8"/>
<text x="348.1" y="371.45" font-size="7.55" text-anchor="end">0.025</text>
<line x1="351.2" y1="393.9" x2="353.8" y2="393.9" stroke="#2a2a2a" stroke-width="0.8"/>
<text x="348.1" y="397.3" font-size="7.55" text-anchor="end">0.020</text>
<text x="456.25" y="423.6" font-size="7.2" text-anchor="middle">Time</text>
<text transform="translate(320.7,319.45) rotate(-90)" font-size="7.4" text-anchor="middle">Values</text>
<rect x="571.8" y="234.8" width="7.4" height="166.5" fill="url(#vir)" stroke="#2a2a2a" stroke-width="0.8"/>
<line x1="579.2" y1="260.2" x2="581.8" y2="260.2" stroke="#2a2a2a" stroke-width="0.8"/>
<text x="585" y="262.8" font-size="7.25">0.045</text>
<line x1="579.2" y1="288.3" x2="581.8" y2="288.3" stroke="#2a2a2a" stroke-width="0.8"/>
<text x="585" y="290.9" font-size="7.25">0.040</text>
<line x1="579.2" y1="316.4" x2="581.8" y2="316.4" stroke="#2a2a2a" stroke-width="0.8"/>
<text x="585" y="319" font-size="7.25">0.035</text>
<line x1="579.2" y1="344.5" x2="581.8" y2="344.5" stroke="#2a2a2a" stroke-width="0.8"/>
<text x="585" y="347.1" font-size="7.25">0.030</text>
<line x1="579.2" y1="372.6" x2="581.8" y2="372.6" stroke="#2a2a2a" stroke-width="0.8"/>
<text x="585" y="375.2" font-size="7.25">0.025</text>
<text transform="translate(615.1,319.65) rotate(-90)" font-size="7.4" text-anchor="middle">Values</text>
</g>
<g>
<text x="299.3" y="451.8" font-size="9.15" text-anchor="middle">1D heatmap of mixed fault sample</text>
<circle cx="255.4" cy="504.1" r="1.15" fill="#31ba49"/>
<circle cx="267.6" cy="504.7" r="1.15" fill="#2fb94b"/>
<circle cx="250.1" cy="533.6" r="1.15" fill="#008573"/>
<circle cx="241.6" cy="538.4" r="1.15" fill="#007c75"/>
<circle cx="318.4" cy="463.2" r="1.15" fill="#fde200"/>
<circle cx="392.3" cy="514.1" r="1.15" fill="#0da95e"/>
<circle cx="235.5" cy="545" r="1.15" fill="#006e77"/>
<circle cx="259.2" cy="554.1" r="1.15" fill="#005d78"/>
<circle cx="217.9" cy="558.6" r="1.15" fill="#035478"/>
<circle cx="264.2" cy="558.8" r="1.15" fill="#035478"/>
<circle cx="266.8" cy="561.1" r="1.15" fill="#054f77"/>
<circle cx="252.4" cy="565.1" r="1.15" fill="#084777"/>
<circle cx="244.1" cy="569.4" r="1.15" fill="#0c3f76"/>
<circle cx="319.7" cy="571.1" r="1.15" fill="#0e3b76"/>
<circle cx="315.9" cy="577.8" r="1.15" fill="#142d73"/>
<circle cx="336" cy="577.7" r="1.15" fill="#142d73"/>
<circle cx="372.8" cy="545.8" r="1.15" fill="#006d77"/>
<circle cx="387.2" cy="555" r="1.15" fill="#005b78"/>
<circle cx="363.6" cy="563.6" r="1.15" fill="#074b77"/>
<circle cx="379" cy="563.2" r="1.15" fill="#074b77"/>
<circle cx="358.1" cy="566.5" r="1.15" fill="#094577"/>
<circle cx="366.1" cy="567.9" r="1.15" fill="#0b4177"/>
<circle cx="372.6" cy="569.6" r="1.15" fill="#0c3f76"/>
<circle cx="392" cy="569.4" r="1.15" fill="#0c3f76"/>
<circle cx="222.2" cy="583.1" r="1.15" fill="#1a2170"/>
<circle cx="255.7" cy="589.6" r="1.15" fill="#1f116a"/>
<circle cx="219.3" cy="593.3" r="1.15" fill="#220764"/>
<circle cx="257.4" cy="593.6" r="1.15" fill="#220764"/>
<circle cx="217.1" cy="597.9" r="1.15" fill="#23005b"/>
<circle cx="206.6" cy="599.1" r="1.15" fill="#230059"/>
<circle cx="241.8" cy="601.7" r="1.15" fill="#240054"/>
<circle cx="224.8" cy="604.6" r="1.15" fill="#23004d"/>
<circle cx="239.1" cy="607.8" r="1.15" fill="#230045"/>
<circle cx="254.8" cy="609.6" r="1.15" fill="#220040"/>
<circle cx="261.2" cy="614.3" r="1.15" fill="#1f0032"/>
<circle cx="264.8" cy="613.5" r="1.15" fill="#1f0034"/>
<circle cx="275.3" cy="590.8" r="1.15" fill="#200f68"/>
<circle cx="293.6" cy="592.7" r="1.15" fill="#210965"/>
<circle cx="304.6" cy="594.2" r="1.15" fill="#220663"/>
<circle cx="321.4" cy="603.9" r="1.15" fill="#23004e"/>
<circle cx="327.1" cy="603.7" r="1.15" fill="#240050"/>
<circle cx="272.8" cy="605.4" r="1.15" fill="#23004b"/>
<circle cx="269.6" cy="612" r="1.15" fill="#200039"/>
<circle cx="329.6" cy="613" r="1.15" fill="#200035"/>
<circle cx="352.2" cy="581.4" r="1.15" fill="#192471"/>
<circle cx="347.6" cy="587.5" r="1.15" fill="#1e166c"/>
<circle cx="387.1" cy="592.4" r="1.15" fill="#210a66"/>
<circle cx="372" cy="593.8" r="1.15" fill="#220663"/>
<circle cx="371.9" cy="604.8" r="1.15" fill="#23004d"/>
<circle cx="371.5" cy="607.5" r="1.15" fill="#230045"/>
<circle cx="368" cy="612.7" r="1.15" fill="#200035"/>
<circle cx="373.9" cy="613" r="1.15" fill="#200035"/>
<circle cx="391.8" cy="612.3" r="1.15" fill="#200037"/>
<rect x="197.9" y="455.8" width="204.4" height="166.6" fill="none" stroke="#2a2a2a" stroke-width="0.8"/>
<line x1="206.1" y1="622.4" x2="206.1" y2="625" stroke="#2a2a2a" stroke-width="0.8"/>
<text x="206.1" y="634" font-size="7.25" text-anchor="middle">0</text>
<line x1="243.7" y1="622.4" x2="243.7" y2="625" stroke="#2a2a2a" stroke-width="0.8"/>
<text x="243.7" y="634" font-size="7.25" text-anchor="middle">2000</text>
<line x1="281.3" y1="622.4" x2="281.3" y2="625" stroke="#2a2a2a" stroke-width="0.8"/>
<text x="281.3" y="634" font-size="7.25" text-anchor="middle">4000</text>
<line x1="318.9" y1="622.4" x2="318.9" y2="625" stroke="#2a2a2a" stroke-width="0.8"/>
<text x="318.9" y="634" font-size="7.25" text-anchor="middle">6000</text>
<line x1="356.5" y1="622.4" x2="356.5" y2="625" stroke="#2a2a2a" stroke-width="0.8"/>
<text x="356.5" y="634" font-size="7.25" text-anchor="middle">8000</text>
<line x1="394.1" y1="622.4" x2="394.1" y2="625" stroke="#2a2a2a" stroke-width="0.8"/>
<text x="394.1" y="634" font-size="7.25" text-anchor="middle">10000</text>
<line x1="195.3" y1="465.7" x2="197.9" y2="465.7" stroke="#2a2a2a" stroke-width="0.8"/>
<text x="192.2" y="469.1" font-size="7.55" text-anchor="end">0.045</text>
<line x1="195.3" y1="495.55" x2="197.9" y2="495.55" stroke="#2a2a2a" stroke-width="0.8"/>
<text x="192.2" y="498.95" font-size="7.55" text-anchor="end">0.040</text>
<line x1="195.3" y1="525.4" x2="197.9" y2="525.4" stroke="#2a2a2a" stroke-width="0.8"/>
<text x="192.2" y="528.8" font-size="7.55" text-anchor="end">0.035</text>
<line x1="195.3" y1="555.25" x2="197.9" y2="555.25" stroke="#2a2a2a" stroke-width="0.8"/>
<text x="192.2" y="558.65" font-size="7.55" text-anchor="end">0.030</text>
<line x1="195.3" y1="585.1" x2="197.9" y2="585.1" stroke="#2a2a2a" stroke-width="0.8"/>
<text x="192.2" y="588.5" font-size="7.55" text-anchor="end">0.025</text>
<line x1="195.3" y1="614.95" x2="197.9" y2="614.95" stroke="#2a2a2a" stroke-width="0.8"/>
<text x="192.2" y="618.35" font-size="7.55" text-anchor="end">0.020</text>
<text x="300.1" y="644.7" font-size="7.2" text-anchor="middle">Time</text>
<text transform="translate(165.2,540.5) rotate(-90)" font-size="7.4" text-anchor="middle">Values</text>
<rect x="415.3" y="455.8" width="7.8" height="166.6" fill="url(#vir)" stroke="#2a2a2a" stroke-width="0.8"/>
<line x1="423.1" y1="458.7" x2="425.7" y2="458.7" stroke="#2a2a2a" stroke-width="0.8"/>
<text x="429" y="461.3" font-size="7.25">0.045</text>
<line x1="423.1" y1="491.55" x2="425.7" y2="491.55" stroke="#2a2a2a" stroke-width="0.8"/>
<text x="429" y="494.15" font-size="7.25">0.040</text>
<line x1="423.1" y1="524.4" x2="425.7" y2="524.4" stroke="#2a2a2a" stroke-width="0.8"/>
<text x="429" y="527" font-size="7.25">0.035</text>
<line x1="423.1" y1="557.25" x2="425.7" y2="557.25" stroke="#2a2a2a" stroke-width="0.8"/>
<text x="429" y="559.85" font-size="7.25">0.030</text>
<line x1="423.1" y1="590.1" x2="425.7" y2="590.1" stroke="#2a2a2a" stroke-width="0.8"/>
<text x="429" y="592.7" font-size="7.25">0.025</text>
<text transform="translate(458.8,540.7) rotate(-90)" font-size="7.4" text-anchor="middle">Values</text>
</g>
</svg></body></html>
